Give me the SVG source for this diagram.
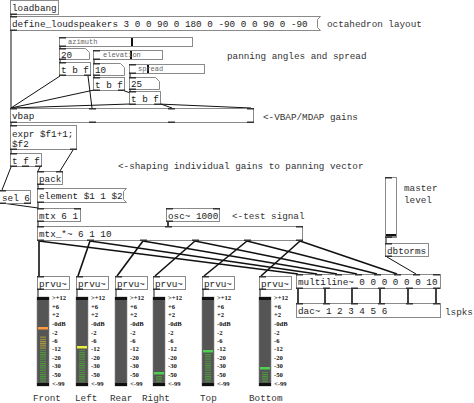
<svg xmlns="http://www.w3.org/2000/svg" width="474" height="403" viewBox="0 0 474 403">
<style>
.bx{fill:#fff;stroke:#8a8a8a;stroke-width:1}
.io{fill:#333;height:1.5px}
.t{font-family:"Liberation Mono",monospace;font-size:9.3px;fill:#222}
.cm{font-family:"Liberation Mono",monospace;font-size:9.3px;fill:#333}
.lb{font-family:"Liberation Mono",monospace;font-size:7px;fill:#666}
.sc{font-family:"Liberation Serif",serif;font-size:6.6px;font-weight:bold;fill:#111}
.c{fill:none;stroke:#111;stroke-width:1}
.s{fill:none;stroke:#111;stroke-width:1.6}
.vu{fill:#555;stroke:#8a8a8a;stroke-width:0.6}
.vb{fill:#111}
.kn{fill:#111}
</style>
<defs>
<pattern id="ledg" width="6" height="2.2" patternUnits="userSpaceOnUse"><rect width="6" height="1.1" fill="#4f9a3c"/></pattern>
<pattern id="ledy" width="6" height="2.2" patternUnits="userSpaceOnUse"><rect width="6" height="1.1" fill="#b0a040"/></pattern>
</defs>

<g id="connections">
<line class="c" x1="11" y1="15" x2="11" y2="17"/>
<line class="c" x1="11" y1="31" x2="11" y2="108"/>
<line class="c" x1="60" y1="46" x2="60" y2="48"/>
<line class="c" x1="60" y1="60" x2="60" y2="62"/>
<line class="c" x1="60" y1="76" x2="11" y2="108"/>
<line class="c" x1="88" y1="76" x2="92" y2="108"/>
<line class="c" x1="94" y1="59" x2="94" y2="63"/>
<line class="c" x1="94" y1="75" x2="94" y2="77"/>
<line class="c" x1="94" y1="90" x2="11" y2="108"/>
<line class="c" x1="122" y1="90" x2="172" y2="108"/>
<line class="c" x1="130" y1="73" x2="130" y2="77"/>
<line class="c" x1="130" y1="89" x2="130" y2="91"/>
<line class="c" x1="130" y1="104" x2="11" y2="108"/>
<line class="c" x1="158" y1="104" x2="251" y2="108"/>
<line class="c" x1="11" y1="123" x2="11" y2="125"/>
<line class="c" x1="11" y1="150" x2="11" y2="153"/>
<line class="c" x1="73" y1="150" x2="60" y2="171"/>
<line class="c" x1="11" y1="167" x2="2" y2="190"/>
<line class="c" x1="40" y1="167" x2="38" y2="171"/>
<line class="c" x1="38" y1="184" x2="38" y2="188"/>
<line class="c" x1="38" y1="203" x2="38" y2="208"/>
<line class="c" x1="2" y1="203" x2="38" y2="208"/>
<line class="c" x1="38" y1="222" x2="38" y2="226"/>
<line class="c" x1="386" y1="238" x2="386" y2="243"/>
<line class="c" x1="387" y1="257" x2="416" y2="274"/>
<line class="s" x1="168" y1="222" x2="168" y2="226"/>
<line class="s" x1="39" y1="241" x2="39" y2="276"/>
<line class="s" x1="90" y1="241" x2="78" y2="276"/>
<line class="s" x1="143" y1="241" x2="117" y2="276"/>
<line class="s" x1="195" y1="241" x2="155" y2="276"/>
<line class="s" x1="247" y1="241" x2="204" y2="276"/>
<line class="s" x1="300" y1="241" x2="261" y2="276"/>
<line class="s" x1="39" y1="241" x2="298" y2="274"/>
<line class="s" x1="90" y1="241" x2="317" y2="274"/>
<line class="s" x1="143" y1="241" x2="337" y2="274"/>
<line class="s" x1="195" y1="241" x2="357" y2="274"/>
<line class="s" x1="247" y1="241" x2="377" y2="274"/>
<line class="s" x1="300" y1="241" x2="397" y2="274"/>
<line class="s" x1="298" y1="289" x2="298" y2="303"/>
<line class="s" x1="325" y1="289" x2="325" y2="303"/>
<line class="s" x1="352" y1="289" x2="352" y2="303"/>
<line class="s" x1="380" y1="289" x2="380" y2="303"/>
<line class="s" x1="408" y1="289" x2="408" y2="303"/>
<line class="s" x1="436" y1="289" x2="436" y2="303"/>
<line class="c" x1="38" y1="290" x2="38" y2="297"/>
<line class="c" x1="77" y1="290" x2="77" y2="297"/>
<line class="c" x1="116" y1="290" x2="116" y2="297"/>
<line class="c" x1="154" y1="290" x2="154" y2="297"/>
<line class="c" x1="203" y1="290" x2="203" y2="297"/>
<line class="c" x1="260" y1="290" x2="260" y2="297"/>
</g>

<g id="loadbang">
<rect class="bx" x="10.5" y="0.5" width="48" height="14"/>
<rect class="io" x="10" y="13.5" width="7" height="1.5"/>
<text class="t" x="12" y="11">loadbang</text>
</g>

<g id="define_loudspeakers">
<path class="bx" d="M10.5,16.5 H320.5 L317.5,19.5 V27.5 L320.5,30.5 H10.5 Z"/>
<rect class="io" x="10" y="16" width="7" height="1.5"/>
<rect class="io" x="10" y="29.5" width="7" height="1.5"/>
<text class="t" x="12" y="27">define_loudspeakers 3 0 0 90 0 180 0 -90 0 0 90 0 -90</text>
</g>
<text class="cm" x="327" y="27">octahedron layout</text>

<g id="azimuth">
<rect class="bx" x="59.5" y="37.5" width="133" height="9"/>
<rect class="io" x="59" y="37" width="7" height="1.5"/>
<rect class="io" x="59" y="45.5" width="7" height="1.5"/>
<rect class="kn" x="131" y="38" width="2" height="8"/>
<text class="lb" x="68" y="44">azimuth</text>
</g>
<g id="num_az">
<path class="bx" d="M59.5,48.5 H85.5 L89.5,52.5 V59.5 H59.5 Z"/>
<rect class="io" x="59" y="48" width="7" height="1.5"/>
<rect class="io" x="59" y="58.5" width="7" height="1.5"/>
<text class="t" x="61" y="57.5">20</text>
</g>
<g id="tbf_az">
<rect class="bx" x="59.5" y="62.5" width="31" height="13"/>
<rect class="io" x="59" y="62" width="7" height="1.5"/>
<rect class="io" x="59" y="74.5" width="7" height="1.5"/>
<rect class="io" x="84" y="74.5" width="7" height="1.5"/>
<text class="t" x="61" y="72.5">t b f</text>
</g>

<g id="elevation">
<rect class="bx" x="93.5" y="50.5" width="69" height="9"/>
<rect class="io" x="93" y="50" width="7" height="1.5"/>
<rect class="io" x="93" y="58.5" width="7" height="1.5"/>
<rect class="kn" x="130" y="51" width="2" height="8"/>
<text class="lb" x="103" y="57">elevation</text>
</g>
<g id="num_el">
<path class="bx" d="M93.5,63.5 H120.5 L124.5,67.5 V75.5 H93.5 Z"/>
<rect class="io" x="93" y="63" width="7" height="1.5"/>
<rect class="io" x="93" y="74.5" width="7" height="1.5"/>
<text class="t" x="95" y="73">10</text>
</g>
<g id="tbf_el">
<rect class="bx" x="93.5" y="77.5" width="31" height="13"/>
<rect class="io" x="93" y="77" width="7" height="1.5"/>
<rect class="io" x="93" y="89.5" width="7" height="1.5"/>
<rect class="io" x="118" y="89.5" width="7" height="1.5"/>
<text class="t" x="95" y="87.5">t b f</text>
</g>

<g id="spread">
<rect class="bx" x="129.5" y="64.5" width="75" height="9"/>
<rect class="io" x="129" y="64" width="7" height="1.5"/>
<rect class="io" x="129" y="72.5" width="7" height="1.5"/>
<rect class="kn" x="147" y="65" width="2" height="8"/>
<text class="lb" x="138" y="71">spread</text>
</g>
<g id="num_sp">
<path class="bx" d="M129.5,77.5 H155.5 L159.5,81.5 V89.5 H129.5 Z"/>
<rect class="io" x="129" y="77" width="7" height="1.5"/>
<rect class="io" x="129" y="88.5" width="7" height="1.5"/>
<text class="t" x="131" y="87">25</text>
</g>
<g id="tbf_sp">
<rect class="bx" x="129.5" y="91.5" width="31" height="13"/>
<rect class="io" x="129" y="91" width="7" height="1.5"/>
<rect class="io" x="129" y="103.5" width="7" height="1.5"/>
<rect class="io" x="154" y="103.5" width="7" height="1.5"/>
<text class="t" x="131" y="101.5">t b f</text>
</g>
<text class="cm" x="227" y="59">panning angles and spread</text>

<g id="vbap">
<rect class="bx" x="10.5" y="108.5" width="243" height="14"/>
<rect class="io" x="10" y="108" width="7" height="1.5"/>
<rect class="io" x="89" y="108" width="7" height="1.5"/>
<rect class="io" x="168" y="108" width="7" height="1.5"/>
<rect class="io" x="247" y="108" width="7" height="1.5"/>
<rect class="io" x="10" y="121.5" width="7" height="1.5"/>
<rect class="io" x="89" y="121.5" width="7" height="1.5"/>
<rect class="io" x="168" y="121.5" width="7" height="1.5"/>
<rect class="io" x="247" y="121.5" width="7" height="1.5"/>
<text class="t" x="12" y="119">vbap</text>
</g>
<text class="cm" x="263" y="120">&lt;-VBAP/MDAP gains</text>

<g id="expr">
<rect class="bx" x="10.5" y="125.5" width="66" height="24"/>
<rect class="io" x="10" y="125" width="7" height="1.5"/>
<rect class="io" x="10" y="148.5" width="7" height="1.5"/>
<rect class="io" x="70" y="148.5" width="7" height="1.5"/>
<text class="t" x="12" y="137">expr $f1+1;</text>
<text class="t" x="12" y="147">$f2</text>
</g>

<g id="tff">
<rect class="bx" x="10.5" y="153.5" width="31" height="13"/>
<rect class="io" x="10" y="153" width="7" height="1.5"/>
<rect class="io" x="10" y="165.5" width="7" height="1.5"/>
<rect class="io" x="22" y="165.5" width="7" height="1.5"/>
<rect class="io" x="35" y="165.5" width="7" height="1.5"/>
<text class="t" x="12" y="163.5">t f f</text>
</g>
<text class="cm" x="118" y="169">&lt;-shaping individual gains to panning vector</text>

<g id="pack">
<rect class="bx" x="37.5" y="171.5" width="25" height="13"/>
<rect class="io" x="37" y="171" width="7" height="1.5"/>
<rect class="io" x="56" y="171" width="7" height="1.5"/>
<rect class="io" x="37" y="183.5" width="7" height="1.5"/>
<text class="t" x="39" y="181.5">pack</text>
</g>

<g id="sel">
<rect class="bx" x="-1.5" y="190.5" width="32" height="13"/>
<rect class="io" x="-1" y="190" width="7" height="1.5"/>
<rect class="io" x="-1" y="202.5" width="7" height="1.5"/>
<rect class="io" x="24" y="202.5" width="7" height="1.5"/>
<text class="t" x="2" y="200.5">sel 6</text>
</g>

<g id="element">
<path class="bx" d="M37.5,188.5 H126.5 L123.5,191.5 V199.5 L126.5,202.5 H37.5 Z"/>
<rect class="io" x="37" y="188" width="7" height="1.5"/>
<rect class="io" x="37" y="201.5" width="7" height="1.5"/>
<text class="t" x="39" y="199">element $1 1 $2</text>
</g>

<g id="mtx">
<rect class="bx" x="37.5" y="208.5" width="43" height="13"/>
<rect class="io" x="37" y="208" width="7" height="1.5"/>
<rect class="io" x="74" y="208" width="7" height="1.5"/>
<rect class="io" x="37" y="220.5" width="7" height="1.5"/>
<text class="t" x="39" y="218.5">mtx 6 1</text>
</g>

<g id="osc">
<rect class="bx" x="166.5" y="208.5" width="53" height="13"/>
<rect class="io" x="166" y="208" width="7" height="1.5"/>
<rect class="io" x="213" y="208" width="7" height="1.5"/>
<rect class="io" x="166" y="220.5" width="7" height="1.5"/>
<text class="t" x="168" y="218.5">osc~ 1000</text>
</g>
<text class="cm" x="232" y="219">&lt;-test signal</text>

<g id="mtx_mul">
<rect class="bx" x="37.5" y="226.5" width="265" height="14"/>
<rect class="io" x="37" y="226" width="7" height="1.5"/>
<rect class="io" x="165" y="226" width="7" height="1.5"/>
<rect class="io" x="296" y="226" width="7" height="1.5"/>
<rect class="io" x="37" y="239.5" width="7" height="1.5"/>
<rect class="io" x="87" y="239.5" width="7" height="1.5"/>
<rect class="io" x="140" y="239.5" width="7" height="1.5"/>
<rect class="io" x="192" y="239.5" width="7" height="1.5"/>
<rect class="io" x="244" y="239.5" width="7" height="1.5"/>
<rect class="io" x="296" y="239.5" width="7" height="1.5"/>
<text class="t" x="39" y="237">mtx_*~ 6 1 10</text>
</g>

<g id="prvu1"><rect class="bx" x="37.5" y="276.5" width="32" height="13"/><rect class="io" x="37" y="276" width="7" height="1.5"/><rect class="io" x="37" y="288.5" width="7" height="1.5"/><text class="t" x="39" y="287">prvu~</text></g>
<g id="prvu2"><rect class="bx" x="76.5" y="276.5" width="32" height="13"/><rect class="io" x="76" y="276" width="7" height="1.5"/><rect class="io" x="76" y="288.5" width="7" height="1.5"/><text class="t" x="78" y="287">prvu~</text></g>
<g id="prvu3"><rect class="bx" x="115.5" y="276.5" width="32" height="13"/><rect class="io" x="115" y="276" width="7" height="1.5"/><rect class="io" x="115" y="288.5" width="7" height="1.5"/><text class="t" x="117" y="287">prvu~</text></g>
<g id="prvu4"><rect class="bx" x="153.5" y="276.5" width="32" height="13"/><rect class="io" x="153" y="276" width="7" height="1.5"/><rect class="io" x="153" y="288.5" width="7" height="1.5"/><text class="t" x="155" y="287">prvu~</text></g>
<g id="prvu5"><rect class="bx" x="202.5" y="276.5" width="32" height="13"/><rect class="io" x="202" y="276" width="7" height="1.5"/><rect class="io" x="202" y="288.5" width="7" height="1.5"/><text class="t" x="204" y="287">prvu~</text></g>
<g id="prvu6"><rect class="bx" x="259.5" y="276.5" width="32" height="13"/><rect class="io" x="259" y="276" width="7" height="1.5"/><rect class="io" x="259" y="288.5" width="7" height="1.5"/><text class="t" x="261" y="287">prvu~</text></g>

<defs>
<g id="scale">
<text class="sc" x="15" y="300">&gt;+12</text>
<text class="sc" x="15" y="309">+6</text>
<text class="sc" x="15" y="317">+2</text>
<text class="sc" x="15" y="326">-0dB</text>
<text class="sc" x="15" y="335">-2</text>
<text class="sc" x="15" y="343">-6</text>
<text class="sc" x="15" y="351">-12</text>
<text class="sc" x="15" y="360">-20</text>
<text class="sc" x="15" y="368">-30</text>
<text class="sc" x="15" y="377">-50</text>
<text class="sc" x="15" y="386">&lt;-99</text>
</g>
<g id="vubody">
<rect class="vu" x="0" y="297" width="12" height="89"/>
<rect class="vb" x="0" y="297" width="12" height="3"/>
<rect class="vb" x="0" y="383" width="12" height="3"/>
</g>
</defs>

<g id="vu1" transform="translate(37,0)">
<use href="#vubody"/>
<rect x="3" y="336" width="6" height="13" fill="url(#ledy)"/>
<rect x="3" y="349" width="6" height="34" fill="url(#ledg)"/>
<rect x="1" y="327" width="10" height="2.5" fill="#ff9a40"/>
<use href="#scale"/>
</g>
<g id="vu2" transform="translate(76,0)">
<use href="#vubody"/>
<rect x="3" y="350" width="6" height="33" fill="url(#ledg)"/>
<rect x="1" y="346" width="10" height="2.5" fill="#e8f040"/>
<use href="#scale"/>
</g>
<g id="vu3" transform="translate(115,0)">
<use href="#vubody"/>
<use href="#scale"/>
</g>
<g id="vu4" transform="translate(153,0)">
<use href="#vubody"/>
<rect x="3" y="376" width="6" height="7" fill="url(#ledg)"/>
<rect x="1" y="372" width="10" height="2.5" fill="#50d050"/>
<use href="#scale"/>
</g>
<g id="vu5" transform="translate(202,0)">
<use href="#vubody"/>
<rect x="3" y="354" width="6" height="29" fill="url(#ledg)"/>
<rect x="1" y="350" width="10" height="2.5" fill="#50d050"/>
<use href="#scale"/>
</g>
<g id="vu6" transform="translate(259,0)">
<use href="#vubody"/>
<rect x="3" y="371" width="6" height="12" fill="url(#ledg)"/>
<rect x="1" y="367" width="10" height="2.5" fill="#50d050"/>
<use href="#scale"/>
</g>

<text class="cm" x="33" y="401">Front</text>
<text class="cm" x="75" y="401">Left</text>
<text class="cm" x="110" y="401">Rear</text>
<text class="cm" x="142" y="401">Right</text>
<text class="cm" x="200" y="401">Top</text>
<text class="cm" x="249" y="401">Bottom</text>

<g id="master">
<rect class="bx" x="385.5" y="177.5" width="11" height="60"/>
<rect class="io" x="385" y="177" width="7" height="1.5"/>
<rect class="io" x="385" y="236.5" width="7" height="1.5"/>
<rect class="kn" x="386" y="234" width="10" height="2.5"/>
</g>
<text class="cm" x="404" y="191">master</text>
<text class="cm" x="404" y="203">level</text>

<g id="dbtorms">
<rect class="bx" x="385.5" y="243.5" width="43" height="13"/>
<rect class="io" x="385" y="243" width="7" height="1.5"/>
<rect class="io" x="385" y="255.5" width="7" height="1.5"/>
<text class="t" x="387" y="253.5">dbtorms</text>
</g>

<g id="multiline">
<rect class="bx" x="296.5" y="274.5" width="144" height="14"/>
<rect class="io" x="296" y="274" width="7" height="1.5"/>
<rect class="io" x="315" y="274" width="7" height="1.5"/>
<rect class="io" x="335" y="274" width="7" height="1.5"/>
<rect class="io" x="355" y="274" width="7" height="1.5"/>
<rect class="io" x="374" y="274" width="7" height="1.5"/>
<rect class="io" x="394" y="274" width="7" height="1.5"/>
<rect class="io" x="413" y="274" width="7" height="1.5"/>
<rect class="io" x="433" y="274" width="7" height="1.5"/>
<rect class="io" x="296" y="287.5" width="7" height="1.5"/>
<rect class="io" x="323" y="287.5" width="7" height="1.5"/>
<rect class="io" x="351" y="287.5" width="7" height="1.5"/>
<rect class="io" x="378" y="287.5" width="7" height="1.5"/>
<rect class="io" x="406" y="287.5" width="7" height="1.5"/>
<rect class="io" x="433" y="287.5" width="7" height="1.5"/>
<text class="t" x="298" y="285">multiline~ 0 0 0 0 0 0 10</text>
</g>

<g id="dac">
<rect class="bx" x="296.5" y="303.5" width="144" height="14"/>
<rect class="io" x="296" y="303" width="7" height="1.5"/>
<rect class="io" x="323" y="303" width="7" height="1.5"/>
<rect class="io" x="351" y="303" width="7" height="1.5"/>
<rect class="io" x="378" y="303" width="7" height="1.5"/>
<rect class="io" x="406" y="303" width="7" height="1.5"/>
<rect class="io" x="433" y="303" width="7" height="1.5"/>
<text class="t" x="298" y="314">dac~ 1 2 3 4 5 6</text>
</g>
<text class="cm" x="445" y="315">lspks</text>
</svg>
